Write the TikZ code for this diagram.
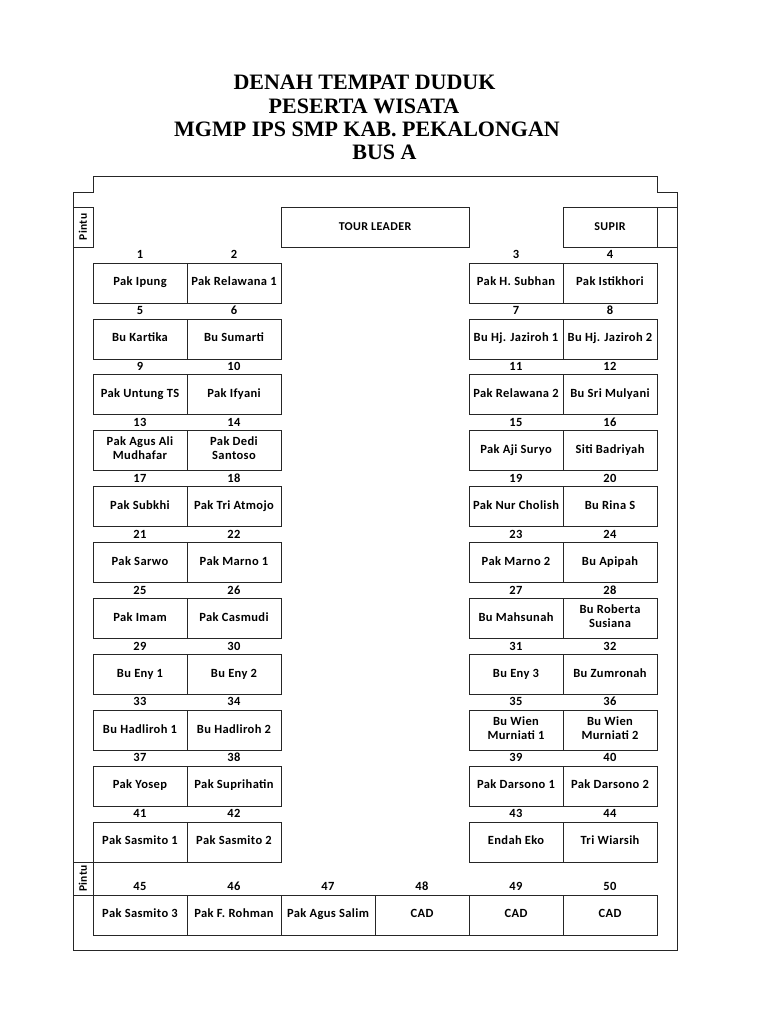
\documentclass[tikz,border=0pt]{standalone}
\usepackage{fontspec}
\usetikzlibrary{positioning}
\newfontfamily\seatfont[LetterSpace=3]{Carlito}
\newfontfamily\titlefont{Liberation Serif}
\tikzset{
  seat/.style={draw=black!85, line width=0.8pt, minimum width=94pt, minimum height=40pt, inner sep=0pt, outer sep=0pt, align=center, font=\seatfont\bfseries\fontsize{12.5}{14}\selectfont, execute at begin node=\strut, execute at end node=\strut},
  num/.style={font=\seatfont\bfseries\fontsize{12.5}{14}\selectfont, inner sep=1pt, label distance=3pt},
  headbox/.style={draw=black!85, line width=0.8pt, minimum height=40pt, inner sep=0pt, outer sep=0pt, align=center, font=\seatfont\bfseries\fontsize{12}{14}\selectfont},
  door/.style={draw=black!85, line width=0.8pt, rotate=90, minimum height=20pt, inner sep=0pt, outer sep=0pt, font=\seatfont\bfseries\fontsize{11.5}{13}\selectfont},
  titleline/.style={font=\titlefont\bfseries\fontsize{22}{23}\selectfont, inner sep=0pt},
  busline/.style={draw=black!85, line width=0.8pt}
}
\begin{document}
\begin{tikzpicture}[x=1pt, y=-1pt]
\useasboundingbox (0,0) rectangle (768,1024);
\node[titleline] (title1) at (364.5,82) {DENAH TEMPAT DUDUK};
\node[titleline] (title2) at (364,106) {PESERTA WISATA};
\node[titleline] (title3) at (367,129) {MGMP IPS SMP KAB. PEKALONGAN};
\node[titleline] (title4) at (384.5,152) {BUS A};
\draw[busline] (73,950) -- (73,192) -- (93,192) -- (93,176) -- (657,176) -- (657,192) -- (677,192) -- (677,950) -- cycle;
\node[door, minimum width=40pt] (pintu1) at (83,227) {Pintu};
\node[door, minimum width=33pt] (pintu2) at (83,878.5) {Pintu};
\node[headbox, minimum width=188pt] (leader) at (375,227) {TOUR LEADER};
\node[headbox, minimum width=94pt] (supir) at (610,227) {SUPIR};
\node[headbox, minimum width=20pt, right=0pt of supir] (supirside) {};
\node[seat, label={[num]above:1}] (s1) at (140,283) {Pak Ipung};
\node[seat, label={[num]above:2}, right=0pt of s1] (s2) {Pak Relawana 1};
\node[seat, label={[num]above:3}] (s3) at (516,283) {Pak H. Subhan};
\node[seat, label={[num]above:4}, right=0pt of s3] (s4) {Pak Istikhori};
\node[seat, label={[num]above:5}, below=15.9pt of s1] (s5) {Bu Kartika};
\node[seat, label={[num]above:6}, right=0pt of s5] (s6) {Bu Sumarti};
\node[seat, label={[num]above:7}, below=15.9pt of s3] (s7) {Bu Hj. Jaziroh 1};
\node[seat, label={[num]above:8}, right=0pt of s7] (s8) {Bu Hj. Jaziroh 2};
\node[seat, label={[num]above:9}, below=15.9pt of s5] (s9) {Pak Untung TS};
\node[seat, label={[num]above:10}, right=0pt of s9] (s10) {Pak Ifyani};
\node[seat, label={[num]above:11}, below=15.9pt of s7] (s11) {Pak Relawana 2};
\node[seat, label={[num]above:12}, right=0pt of s11] (s12) {Bu Sri Mulyani};
\node[seat, label={[num]above:13}, below=15.9pt of s9] (s13) {Pak Agus Ali\\Mudhafar};
\node[seat, label={[num]above:14}, right=0pt of s13] (s14) {Pak Dedi\\Santoso};
\node[seat, label={[num]above:15}, below=15.9pt of s11] (s15) {Pak Aji Suryo};
\node[seat, label={[num]above:16}, right=0pt of s15] (s16) {Siti Badriyah};
\node[seat, label={[num]above:17}, below=15.9pt of s13] (s17) {Pak Subkhi};
\node[seat, label={[num]above:18}, right=0pt of s17] (s18) {Pak Tri Atmojo};
\node[seat, label={[num]above:19}, below=15.9pt of s15] (s19) {Pak Nur Cholish};
\node[seat, label={[num]above:20}, right=0pt of s19] (s20) {Bu Rina S};
\node[seat, label={[num]above:21}, below=15.9pt of s17] (s21) {Pak Sarwo};
\node[seat, label={[num]above:22}, right=0pt of s21] (s22) {Pak Marno 1};
\node[seat, label={[num]above:23}, below=15.9pt of s19] (s23) {Pak Marno 2};
\node[seat, label={[num]above:24}, right=0pt of s23] (s24) {Bu Apipah};
\node[seat, label={[num]above:25}, below=15.9pt of s21] (s25) {Pak Imam};
\node[seat, label={[num]above:26}, right=0pt of s25] (s26) {Pak Casmudi};
\node[seat, label={[num]above:27}, below=15.9pt of s23] (s27) {Bu Mahsunah};
\node[seat, label={[num]above:28}, right=0pt of s27] (s28) {Bu Roberta\\Susiana};
\node[seat, label={[num]above:29}, below=15.9pt of s25] (s29) {Bu Eny 1};
\node[seat, label={[num]above:30}, right=0pt of s29] (s30) {Bu Eny 2};
\node[seat, label={[num]above:31}, below=15.9pt of s27] (s31) {Bu Eny 3};
\node[seat, label={[num]above:32}, right=0pt of s31] (s32) {Bu Zumronah};
\node[seat, label={[num]above:33}, below=15.9pt of s29] (s33) {Bu Hadliroh 1};
\node[seat, label={[num]above:34}, right=0pt of s33] (s34) {Bu Hadliroh 2};
\node[seat, label={[num]above:35}, below=15.9pt of s31] (s35) {Bu Wien\\Murniati 1};
\node[seat, label={[num]above:36}, right=0pt of s35] (s36) {Bu Wien\\Murniati 2};
\node[seat, label={[num]above:37}, below=15.9pt of s33] (s37) {Pak Yosep};
\node[seat, label={[num]above:38}, right=0pt of s37] (s38) {Pak Suprihatin};
\node[seat, label={[num]above:39}, below=15.9pt of s35] (s39) {Pak Darsono 1};
\node[seat, label={[num]above:40}, right=0pt of s39] (s40) {Pak Darsono 2};
\node[seat, label={[num]above:41}, below=15.9pt of s37] (s41) {Pak Sasmito 1};
\node[seat, label={[num]above:42}, right=0pt of s41] (s42) {Pak Sasmito 2};
\node[seat, label={[num]above:43}, below=15.9pt of s39] (s43) {Endah Eko};
\node[seat, label={[num]above:44}, right=0pt of s43] (s44) {Tri Wiarsih};
\node[seat, label={[num]above:45}] (s45) at (140,915) {Pak Sasmito 3};
\node[seat, label={[num]above:46}, right=0pt of s45] (s46) {Pak F. Rohman};
\node[seat, label={[num]above:47}, right=0pt of s46] (s47) {Pak Agus Salim};
\node[seat, label={[num]above:48}, right=0pt of s47] (s48) {CAD};
\node[seat, label={[num]above:49}, right=0pt of s48] (s49) {CAD};
\node[seat, label={[num]above:50}, right=0pt of s49] (s50) {CAD};
\end{tikzpicture}
\end{document}
